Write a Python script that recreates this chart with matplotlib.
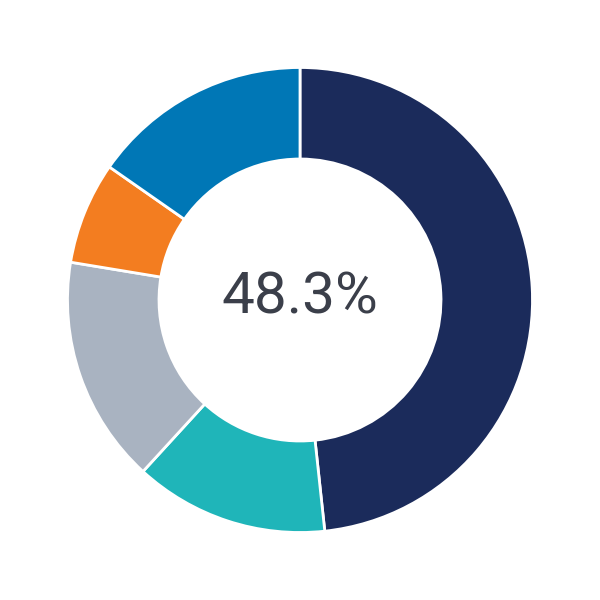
import matplotlib
matplotlib.use("Agg")
import matplotlib.pyplot as plt

labels = ["A", "B", "C", "D", "E"]
values = [48.3, 13.5, 15.8, 7.1, 15.3]
colors = ["#1b2b5b", "#1fb5b9", "#a9b3c1", "#f37d20", "#0077b6"]
center_text = "48.3%"

fig = plt.figure(figsize=(6, 6), dpi=100)
ax = fig.add_axes([0, 0, 1, 1])
ax.pie(values, colors=colors, startangle=90, counterclock=False,
       radius=0.775, center=(0, 0),
       wedgeprops=dict(width=0.305, edgecolor="white", linewidth=2))
ax.text(0, 0.005, center_text, ha="center", va="center", fontsize=42,
        color="#3b3f4a", family="Roboto")
ax.set_xlim(-1, 1)
ax.set_ylim(-1, 1)
ax.set_aspect("equal")
ax.axis("off")
fig.savefig("out.png", dpi=100, facecolor="white")
